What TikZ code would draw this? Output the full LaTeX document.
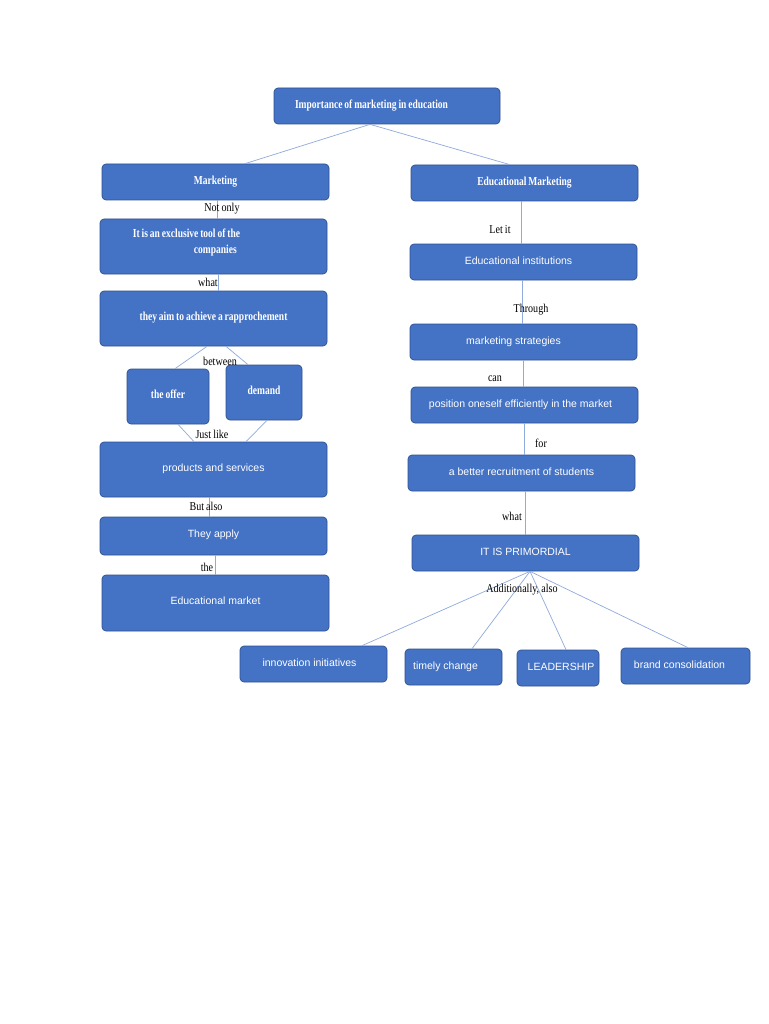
\documentclass[tikz,border=0pt]{standalone}
\usepackage{fontspec}
\setmainfont{Liberation Serif}
\newfontfamily\bserif[FakeStretch=0.78,WordSpace=0.8]{Liberation Serif Bold}
\newfontfamily\lserif[FakeStretch=0.84,WordSpace=0.85]{Liberation Serif}
\newfontfamily\arialf{Liberation Sans}
\definecolor{boxblue}{HTML}{4472C4}
\definecolor{boxedge}{HTML}{2F528F}
\definecolor{linkblue}{HTML}{8FAADC}
\tikzset{
  box/.style={rectangle, rounded corners=4pt, fill=boxblue, draw=boxedge, line width=0.7pt, inner sep=0pt, text=white},
  bbox/.style={box, font=\bserif\fontsize{12.2}{14.5}\selectfont},
  sbox/.style={box, font=\arialf\fontsize{10.5}{12.5}\selectfont},
  link/.style={draw=linkblue, line width=0.7pt},
  lbl/.style={font=\lserif\fontsize{12}{13}\selectfont, text=black, inner sep=0pt}
}
\begin{document}
\begin{tikzpicture}[x=1pt,y=-1pt]
\useasboundingbox (0,0) rectangle (768,1024);
\fill[white] (0,0) rectangle (768,1024);
% left column
\node[bbox, minimum width=226pt, minimum height=36pt] (title) at (387,106) {\makebox[184pt][l]{\raisebox{4pt}{Importance of marketing in education}}};
\node[bbox, minimum width=227pt, minimum height=36pt] (mk) at (215.5,182) {\raisebox{3pt}{Marketing}};
\node[bbox, minimum width=227pt, minimum height=36pt] (em) at (524.5,183) {\raisebox{3pt}{Educational Marketing}};
\node[bbox, minimum width=227pt, minimum height=55pt, align=left] (tool) at (213.5,246.5) {It is an exclusive tool of the\hspace*{54pt}\\[1.5pt]\hspace*{61pt}companies\rule[-10pt]{0pt}{10pt}};
\node[bbox, minimum width=227pt, minimum height=55pt] (aim) at (213.5,318.5) {\raisebox{5pt}{they aim to achieve a rapprochement}};
\node[bbox, minimum width=82pt, minimum height=55pt] (offer) at (168,396.5) {\raisebox{4pt}{the offer}};
\node[bbox, minimum width=76pt, minimum height=55pt] (demand) at (264,392.5) {\raisebox{4pt}{demand}};
\node[sbox, minimum width=227pt, minimum height=55pt] (prod) at (213.5,469.5) {\raisebox{4pt}{products and services}};
\node[sbox, minimum width=227pt, minimum height=38pt] (apply) at (213.5,536) {\raisebox{4pt}{They apply}};
\node[sbox, minimum width=227pt, minimum height=56pt] (edmkt) at (215.5,603) {\raisebox{5pt}{Educational market}};
% right column
\node[sbox, minimum width=227pt, minimum height=36pt] (inst) at (523.5,262) {\hspace*{-10pt}\raisebox{3pt}{Educational institutions}};
\node[sbox, minimum width=227pt, minimum height=36pt] (strat) at (523.5,342) {\hspace*{-20pt}\raisebox{3pt}{marketing strategies}};
\node[sbox, minimum width=227pt, minimum height=36pt] (pos) at (524.5,405) {\hspace*{-8pt}\raisebox{3pt}{position oneself efficiently in the market}};
\node[sbox, minimum width=227pt, minimum height=36pt] (recr) at (521.5,473) {\raisebox{3pt}{a better recruitment of students}};
\node[sbox, minimum width=227pt, minimum height=36pt] (prim) at (525.5,553) {\raisebox{3pt}{IT IS PRIMORDIAL}};
% bottom row
\node[sbox, minimum width=147pt, minimum height=36pt] (innov) at (313.5,664) {\hspace*{-8pt}\raisebox{3pt}{innovation initiatives}};
\node[sbox, minimum width=97pt, minimum height=36pt] (timely) at (453.5,667) {\hspace*{-16pt}\raisebox{3pt}{timely change}};
\node[sbox, minimum width=82pt, minimum height=36pt] (lead) at (558,668) {\hspace*{6pt}\raisebox{3pt}{LEADERSHIP}};
\node[sbox, minimum width=129pt, minimum height=36pt] (brand) at (685.5,666) {\hspace*{-12pt}\raisebox{3pt}{brand consolidation}};
% connectors
\draw[link] ([xshift=-17pt]title.south) -- ([xshift=29.5pt]mk.north);
\draw[link] ([xshift=-17pt]title.south) -- ([xshift=-14.5pt]em.north);
\draw[link] ([xshift=1.5pt]mk.south) -- ([xshift=3.5pt]tool.north);
\draw[link] ([xshift=4.5pt]tool.south) -- ([xshift=4.5pt]aim.north);
\draw[link] ([xshift=-6.5pt]aim.south) -- ([xshift=7pt]offer.north);
\draw[link] ([xshift=12.5pt]aim.south) -- ([xshift=-16pt]demand.north);
\draw[link] ([xshift=10pt]offer.south) -- ([xshift=-19.5pt]prod.north);
\draw[link] ([xshift=3pt]demand.south) -- ([xshift=32.5pt]prod.north);
\draw[link] ([xshift=-4.5pt]prod.south) -- ([xshift=-4.5pt]apply.north);
\draw[link] ([xshift=1.5pt]apply.south) -- ([xshift=-0.5pt]edmkt.north);
\draw[link] ([xshift=-3.5pt]em.south) -- ([xshift=-2.5pt]inst.north);
\draw[link] ([xshift=-1.5pt]inst.south) -- ([xshift=-1.5pt]strat.north);
\draw[link] ([xshift=-0.5pt]strat.south) -- ([xshift=-1.5pt]pos.north);
\draw[link] ([xshift=-0.5pt]pos.south) -- ([xshift=2.5pt]recr.north);
\draw[link] ([xshift=3.5pt]recr.south) -- ([xshift=-0.5pt]prim.north);
\draw[link] ([xshift=4.5pt]prim.south) -- ([xshift=48.5pt]innov.north);
\draw[link] ([xshift=4.5pt]prim.south) -- ([xshift=18.5pt]timely.north);
\draw[link] ([xshift=4.5pt]prim.south) -- ([xshift=8pt]lead.north);
\draw[link] ([xshift=4.5pt]prim.south) -- ([xshift=2.5pt]brand.north);
% connector labels
\node[lbl] (l1) at (222,209) {Not only};
\node[lbl] (l2) at (208,282) {what};
\node[lbl] (l3) at (220,361) {between};
\node[lbl] (l4) at (212,434) {Just like};
\node[lbl] (l5) at (206,506) {But also};
\node[lbl] (l6) at (207,567) {the};
\node[lbl] (l7) at (500,230) {Let it};
\node[lbl] (l8) at (531,310) {Through};
\node[lbl] (l9) at (495,379) {can};
\node[lbl] (l10) at (541,443) {for};
\node[lbl] (l11) at (512,516) {what};
\node[lbl] (l12) at (522,590) {Additionally, also};
\end{tikzpicture}
\end{document}
